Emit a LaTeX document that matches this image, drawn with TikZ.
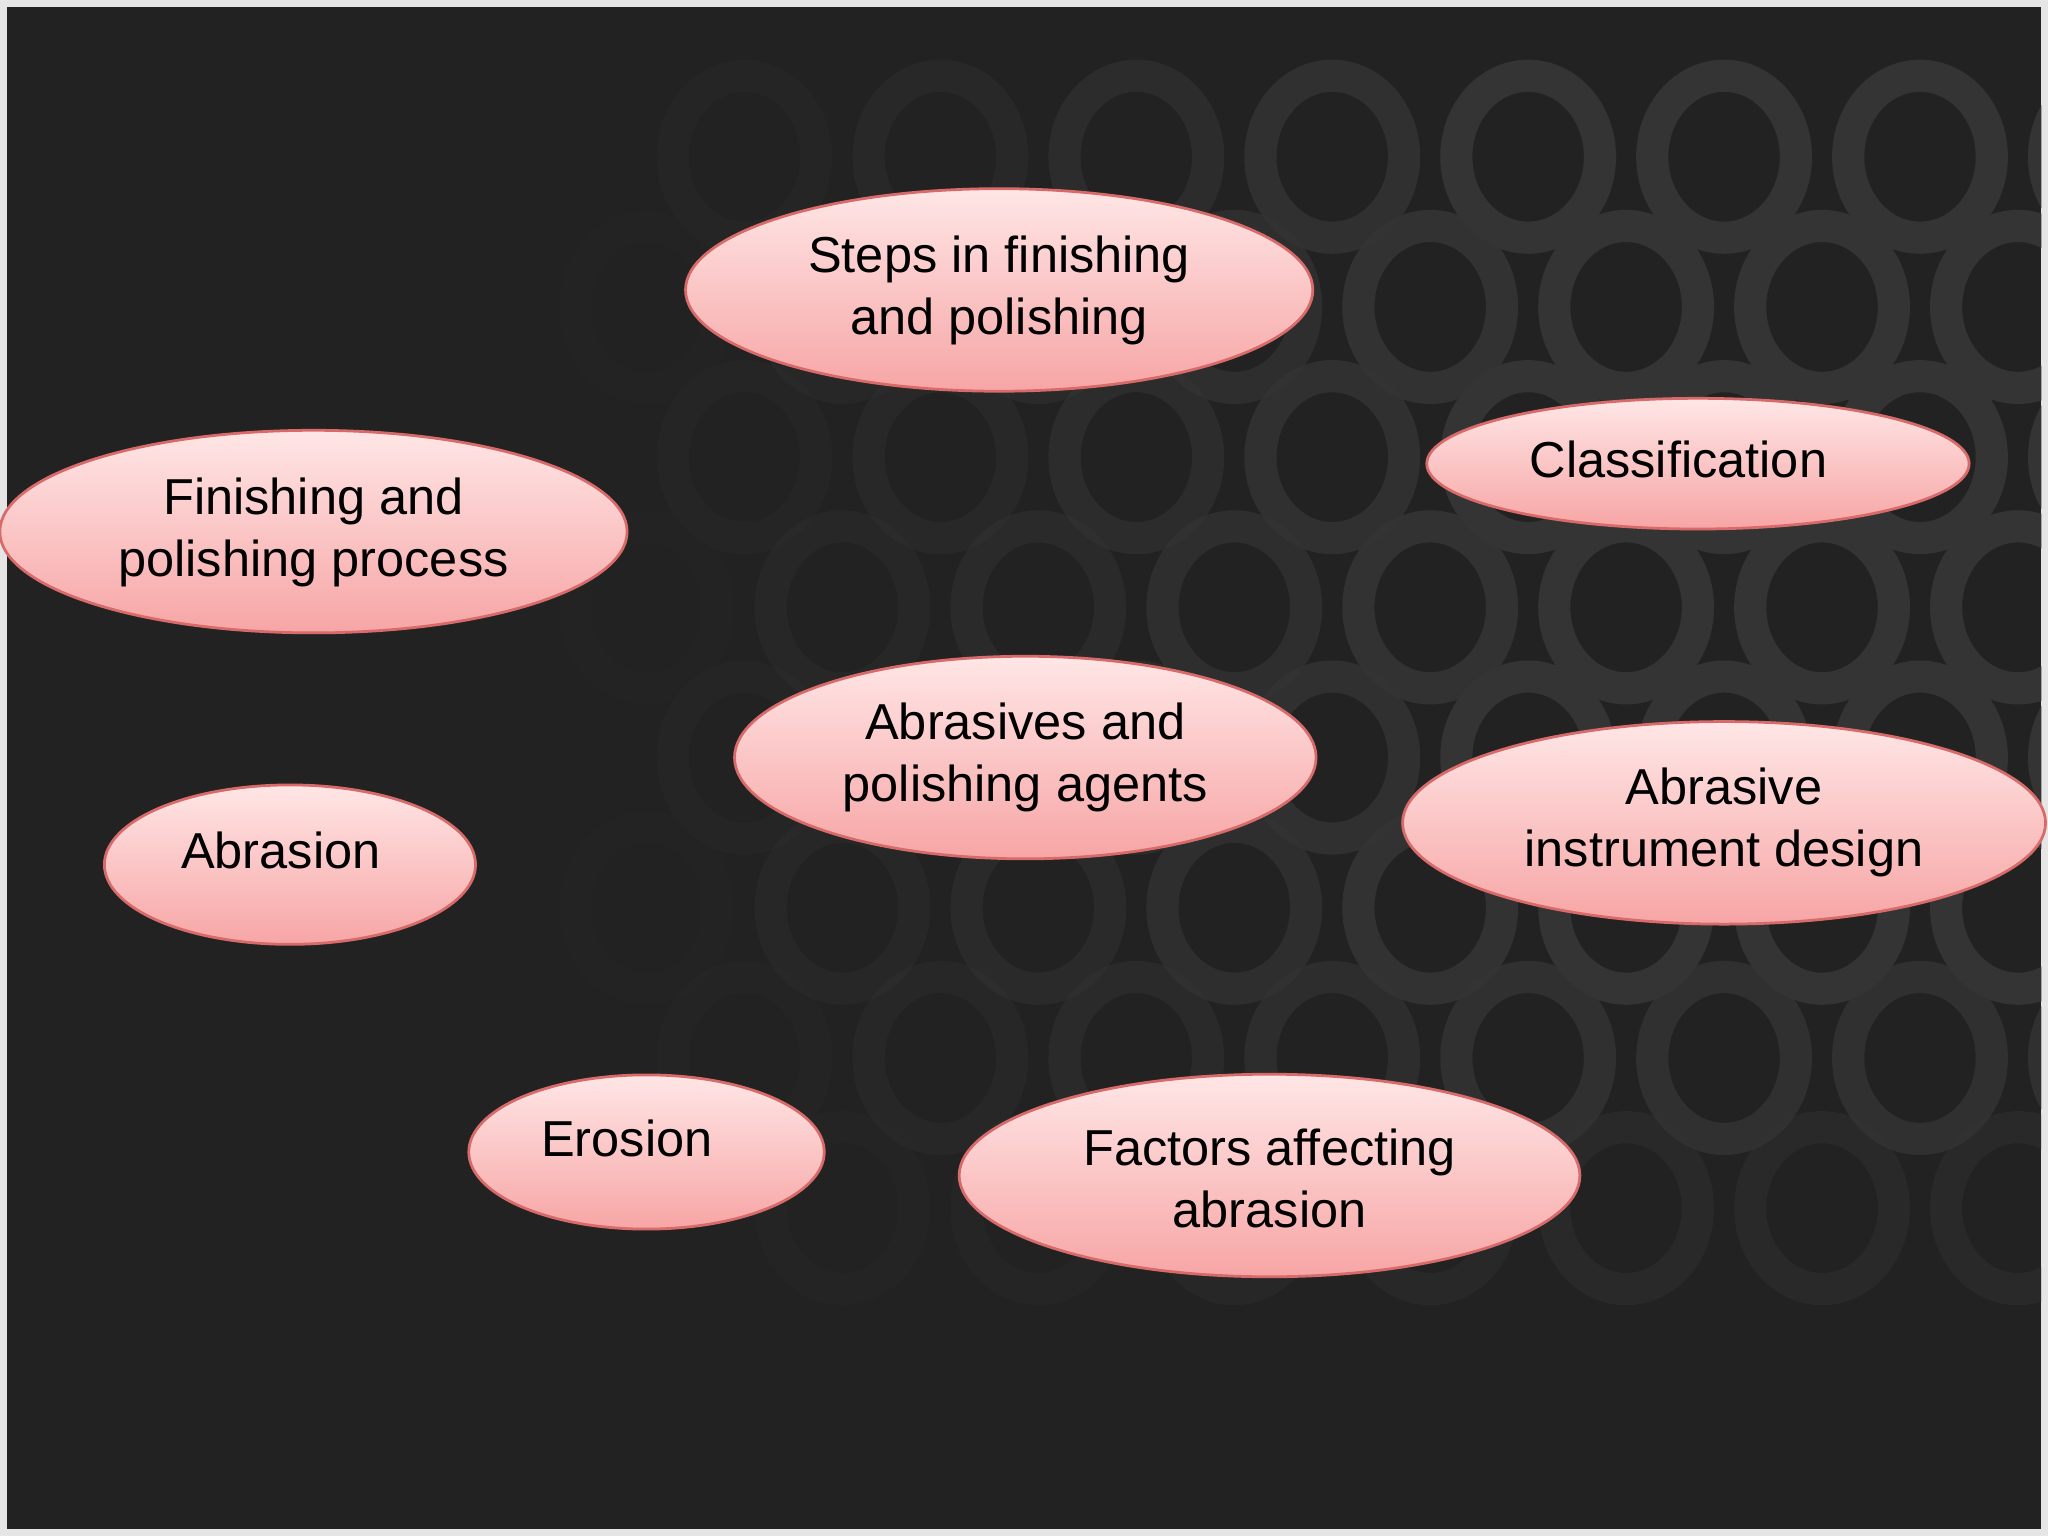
\documentclass[tikz,border=0pt]{standalone}
\usepackage{fontspec}
\setmainfont{Liberation Sans}
\usetikzlibrary{shapes.geometric}
\definecolor{bgd}{HTML}{222222}
\definecolor{ring}{HTML}{343434}
\definecolor{ptop}{HTML}{FFE6E6}
\definecolor{pbot}{HTML}{F7A5A5}
\definecolor{pedge}{HTML}{D86A6A}
\tikzset{
  bubble/.style={ellipse, draw=pedge, line width=0.6pt, top color=ptop, bottom color=pbot, inner sep=0pt},
  label text/.style={align=center, inner sep=0pt, font=\fontsize{11}{13.5}\selectfont, text=black},
  holes/.style={draw=ring, line width=7pt}
}
\begin{document}
\begin{tikzpicture}[x=0.01cm,y=-0.01cm]
\useasboundingbox (0,0) rectangle (1568,1176);
\fill[gray!20] (0,0) rectangle (1568,1176);
\fill[bgd] (5,5) rectangle (1563,1171);
\begin{scope}
\clip (5,5) rectangle (1563,1171);
\foreach \r in {0,...,8}{
  \foreach \c in {0,...,9}{
    \pgfmathsetmacro{\xx}{420+\c*150+mod(\r,2)*75}
    \pgfmathsetmacro{\yy}{120+\r*115}
    \pgfmathsetmacro{\op}{max(0,min(1,(\xx-450)/700))*max(0,min(1,(1050-\yy)/300))}
    \draw[holes, opacity=\op] (\xx,\yy) ellipse (55 and 62);
  }
}
\end{scope}
\node[bubble, minimum width=4.8cm, minimum height=1.55cm] (steps) at (765,222) {};
\node[label text] (stepsT) at (765,222) {Steps in finishing\\and polishing};
\node[bubble, minimum width=4.15cm, minimum height=1.0cm] (class) at (1300,355) {};
\node[label text] (classT) at (1285,352) {Classification};
\node[bubble, minimum width=4.8cm, minimum height=1.55cm] (fin) at (240,407) {};
\node[label text] (finT) at (240,408) {Finishing and\\polishing process};
\node[bubble, minimum width=4.45cm, minimum height=1.55cm] (abr) at (785,580) {};
\node[label text] (abrT) at (785,580) {Abrasives and\\polishing agents};
\node[bubble, minimum width=2.84cm, minimum height=1.22cm] (abrasion) at (222,662) {};
\node[label text] (abrasionT) at (215,651) {Abrasion};
\node[bubble, minimum width=4.92cm, minimum height=1.55cm] (design) at (1320,630) {};
\node[label text] (designT) at (1320,630) {Abrasive\\instrument design};
\node[bubble, minimum width=2.72cm, minimum height=1.18cm] (ero) at (495,882) {};
\node[label text] (eroT) at (480,872) {Erosion};
\node[bubble, minimum width=4.75cm, minimum height=1.55cm] (fact) at (972,900) {};
\node[label text] (factT) at (972,902) {Factors affecting\\abrasion};
\end{tikzpicture}
\end{document}
